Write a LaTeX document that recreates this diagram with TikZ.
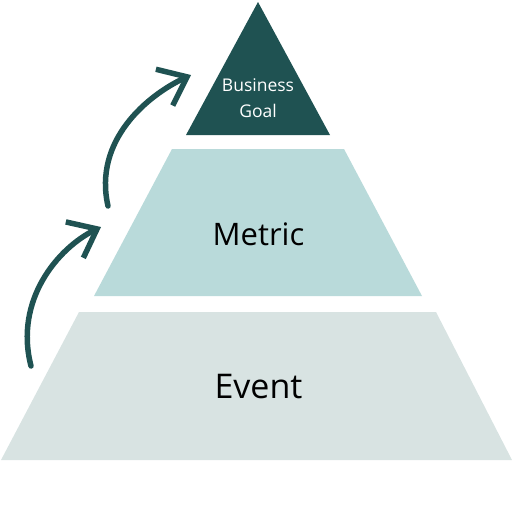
\documentclass[tikz,border=0pt]{standalone}
\usepackage{fontspec}
\setmainfont{Open Sans}
\usepackage{tikz}
\usetikzlibrary{arrows.meta,positioning}
\definecolor{goalteal}{HTML}{1F5252}
\definecolor{metricteal}{HTML}{B9DADA}
\definecolor{eventgrey}{HTML}{D8E3E2}
\tikzset
{
    layertext/.style = {align=center, inner sep=0pt},
    climb/.style     = {draw=goalteal, line width=5.5pt, line cap=round, -{Straight Barb[length=25pt, width=40pt]}}
}

\begin{document}
\begin{tikzpicture}[x=1pt, y=-1pt]
    \useasboundingbox (0,0) rectangle (512,512);
    \fill [goalteal] (258,2) -- (330,135) -- (186,135) -- cycle;
    \fill [metricteal] (172,149) -- (344,149) -- (422,296) -- (94,296) -- cycle;
    \fill [eventgrey] (79,312) -- (436,312) -- (512,460) -- (1,460) -- cycle;
    \node [layertext, text=white, font=\fontsize{17.5}{25.5}\selectfont] (goal) at (258,98) {Business\\Goal};
    \node [layertext, text=black, font=\fontsize{31}{36}\selectfont] (metric) at (258.5,234.5) {Metric};
    \node [layertext, text=black, font=\fontsize{34}{40}\selectfont] (event) at (258.5,386.5) {Event};
    \coordinate (eventfoot) at (31,366);
    \coordinate (metrichead) at (101,227);
    \coordinate (metricfoot) at (108,206);
    \coordinate (goalhead) at (191,75);
    \draw [climb] (eventfoot) .. controls (14,300) and (58,248) .. (metrichead);
    \draw [climb] (metricfoot) .. controls (93,140) and (148,95) .. (goalhead);
\end{tikzpicture}
\end{document}
